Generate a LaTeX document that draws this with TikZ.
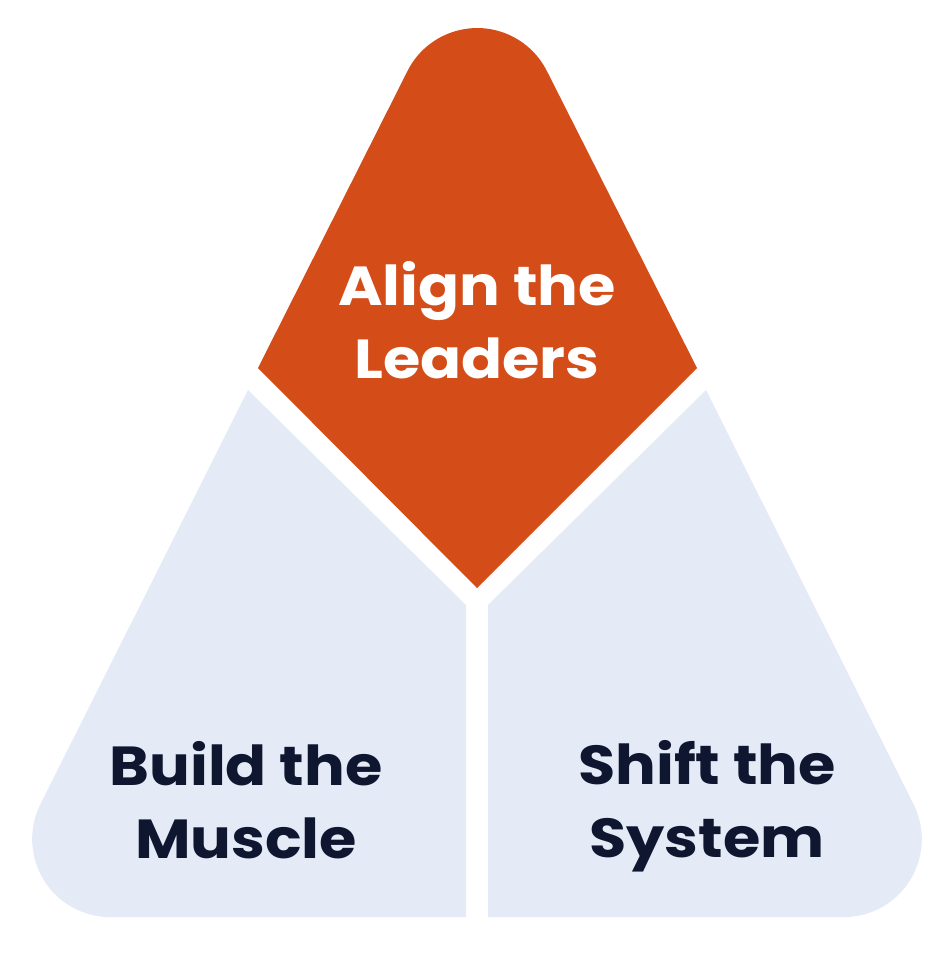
\documentclass[tikz,border=0pt]{standalone}
\usepackage{fontspec}
\setmainfont{Poppins}[FakeStretch=1.1]
\definecolor{org}{HTML}{D44C18}
\definecolor{lb}{HTML}{E5EAF7}
\definecolor{nv}{HTML}{0E1630}
\begin{document}
\begin{tikzpicture}[x=1pt,y=-1pt]
\tikzset{lab/.style={font=\fontsize{55}{73}\selectfont\bfseries,align=center}}
\useasboundingbox (0,0) rectangle (943,975);
\fill[org] (258,368) -- (407.5,71) arc[start angle=206.7,end angle=333.3,radius=78] -- (697,368) -- (477,588) -- cycle;
\fill[lb] (248,390) -- (40.4,804.3) arc[start angle=206.5,end angle=90,radius=78] -- (466,917) -- (466,605) -- cycle;
\fill[lb] (706,390) -- (913.6,804.3) arc[start angle=-26.5,end angle=90,radius=78] -- (488,917) -- (488,605) -- cycle;
\node[lab,text=white] (a) at (477,320) {Align the\\Leaders};
\node[lab,text=nv] (b) at (246,800) {Build the\\Muscle};
\node[lab,text=nv] (c) at (707,806) {Shift the\\System};
\end{tikzpicture}
\end{document}
